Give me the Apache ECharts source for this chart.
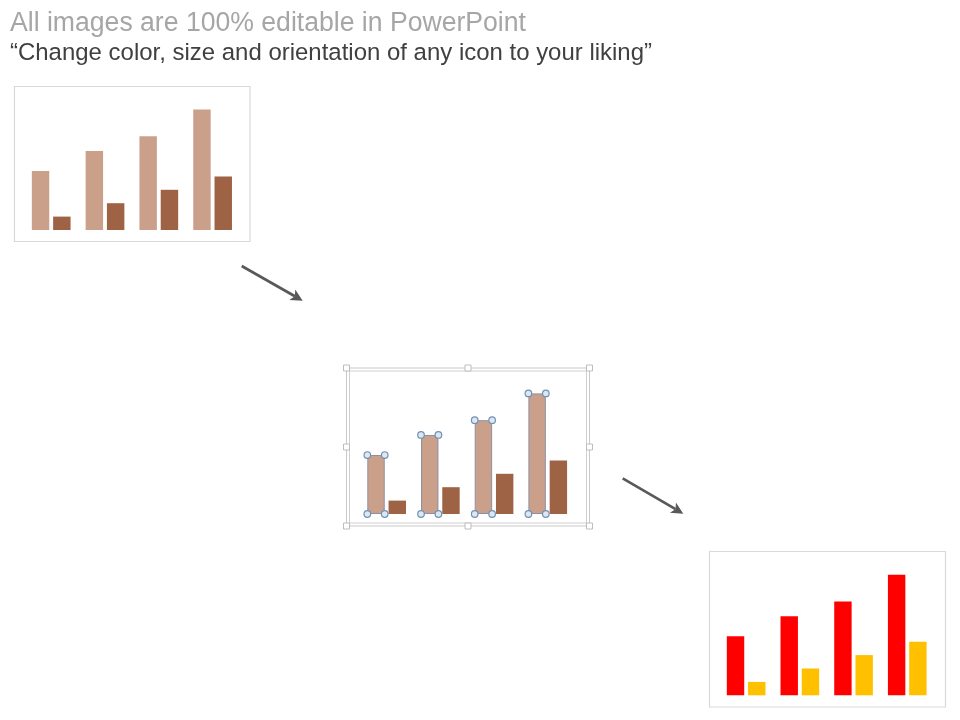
<!DOCTYPE html>
<html>
<head>
<meta charset="utf-8">
<script src="https://cdn.jsdelivr.net/npm/echarts@6/dist/echarts.min.js"></script>
<style>
html,body{margin:0;padding:0;background:#fff;}
#main{width:960px;height:720px;}
</style>
</head>
<body>
<div id="main"></div>
<script>
// ---- data ----
const categories = ['A', 'B', 'C', 'D'];
const seriesTall = [4.4, 5.9, 7.0, 9.0];
const seriesShort = [1.0, 2.0, 3.0, 4.0];
const yMax = 10;
const titleText = 'All images are 100% editable in PowerPoint';
const subtitleText = '\u201CChange color, size and orientation of any icon to your liking\u201D';

// ---- styling ----
const LIGHT = '#CBA08B', DARK = '#9D6344', RED = '#FF0000', YELLOW = '#FFC000';
const CAT_GAP = 0.28, BAR_GAP = 0.22;

const grids = [
  {left: 24.3, top: 96, width: 215.2, height: 134},
  {left: 359.8, top: 380, width: 214.8, height: 134},
  {left: 719.3, top: 561.3, width: 214.8, height: 134}
];

const chart = echarts.init(document.getElementById('main'), null, {renderer: 'canvas'});

const xAxes = grids.map((g, i) => ({gridIndex: i, type: 'category', data: categories, show: false}));
const yAxes = grids.map((g, i) => ({gridIndex: i, type: 'value', min: 0, max: yMax, show: false}));

function barSeries(i, data, color, extra) {
  return Object.assign({
    type: 'bar', xAxisIndex: i, yAxisIndex: i, data: data,
    barCategoryGap: (CAT_GAP * 100) + '%', barGap: (BAR_GAP * 100) + '%',
    itemStyle: {color: color}, silent: true, animation: false
  }, extra || {});
}

// selection handles on the tall bars of the middle panel
const handleSeries = {
  type: 'custom', xAxisIndex: 1, yAxisIndex: 1, animation: false, silent: true, z: 5,
  data: seriesTall.map((v, k) => [k, v]),
  renderItem: function (params, api) {
    const cat = api.value(0), v = api.value(1);
    const top = api.coord([cat, v]);
    const base = api.coord([cat, 0]);
    const cw = api.size([1, 0])[0];
    const total = cw * (1 - CAT_GAP);
    const bw = total / (2 + BAR_GAP);
    const x0 = top[0] - total / 2, x1 = x0 + bw;
    const pts = [[x0, top[1]], [x1, top[1]], [x0, base[1]], [x1, base[1]]];
    return {
      type: 'group',
      children: pts.map(p => ({
        type: 'circle', shape: {cx: p[0], cy: p[1], r: 3.3},
        style: {fill: '#dde7f1', stroke: '#7092b4', lineWidth: 1.2}
      }))
    };
  }
};

function arrow(x1, y1, x2, y2) {
  const dx = x2 - x1, dy = y2 - y1, L = Math.hypot(dx, dy);
  const ux = dx / L, uy = dy / L, px = -uy, py = ux;
  const hl = 12, hw = 6;
  const bx = x2 - ux * hl, by = y2 - uy * hl;
  return {
    type: 'group', silent: true, children: [
      {type: 'line', shape: {x1: x1, y1: y1, x2: bx + ux * 3, y2: by + uy * 3}, style: {stroke: '#595959', lineWidth: 2.6}},
      {type: 'polygon', shape: {points: [[x2, y2], [bx + px * hw, by + py * hw], [bx + ux * 3, by + uy * 3], [bx - px * hw, by - py * hw]]}, style: {fill: '#595959'}}
    ]
  };
}

function handleSquare(x, y) {
  return {type: 'rect', shape: {x: x - 3, y: y - 3, width: 6, height: 6}, style: {fill: '#fff', stroke: '#bdbdbd', lineWidth: 1}, z: 10};
}

const frameL = 346.5, frameT = 368, frameR = 589.5, frameB = 526;
const midX = (frameL + frameR) / 2, midY = (frameT + frameB) / 2;

const graphics = [
  {type: 'text', left: 10, top: 10, scaleX: 0.985, originX: 0, style: {text: titleText, fill: '#a6a6a6', font: '27px "Liberation Sans", Arial, sans-serif'}, silent: true},
  {type: 'text', left: 10, top: 41, scaleX: 0.978, originX: 0, style: {text: subtitleText, fill: '#404040', font: '24.5px "Liberation Sans", Arial, sans-serif'}, silent: true},
  // panel frames
  {type: 'rect', shape: {x: 14.5, y: 86.5, width: 235.5, height: 155}, style: {fill: 'none', stroke: '#d9d9d9', lineWidth: 1.2}, z: -1},
  {type: 'rect', shape: {x: 709.5, y: 551.5, width: 236, height: 155.5}, style: {fill: 'none', stroke: '#d9d9d9', lineWidth: 1.2}, z: -1},
  {type: 'rect', shape: {x: frameL, y: frameT, width: frameR - frameL, height: frameB - frameT}, style: {fill: 'none', stroke: '#c8c8c8', lineWidth: 1}, z: -1},
  {type: 'rect', shape: {x: frameL + 3, y: frameT + 3, width: frameR - frameL - 6, height: frameB - frameT - 6}, style: {fill: 'none', stroke: '#d0d0d0', lineWidth: 1}, z: -1},
  handleSquare(frameL, frameT), handleSquare(midX, frameT), handleSquare(frameR, frameT),
  handleSquare(frameL, midY), handleSquare(frameR, midY),
  handleSquare(frameL, frameB), handleSquare(midX, frameB), handleSquare(frameR, frameB),
  arrow(241.7, 266, 302.7, 300.7),
  arrow(622.7, 478.3, 683.3, 513.7)
];

chart.setOption({
  animation: false,
  backgroundColor: '#ffffff',
  grid: grids,
  xAxis: xAxes,
  yAxis: yAxes,
  series: [
    barSeries(0, seriesTall, LIGHT),
    barSeries(0, seriesShort, DARK),
    barSeries(1, seriesTall, LIGHT, {itemStyle: {color: LIGHT, borderColor: '#8f8f9f', borderWidth: 1}}),
    barSeries(1, seriesShort, DARK),
    handleSeries,
    barSeries(2, seriesTall, RED),
    barSeries(2, seriesShort, YELLOW)
  ],
  graphic: graphics
});
</script>
</body>
</html>
